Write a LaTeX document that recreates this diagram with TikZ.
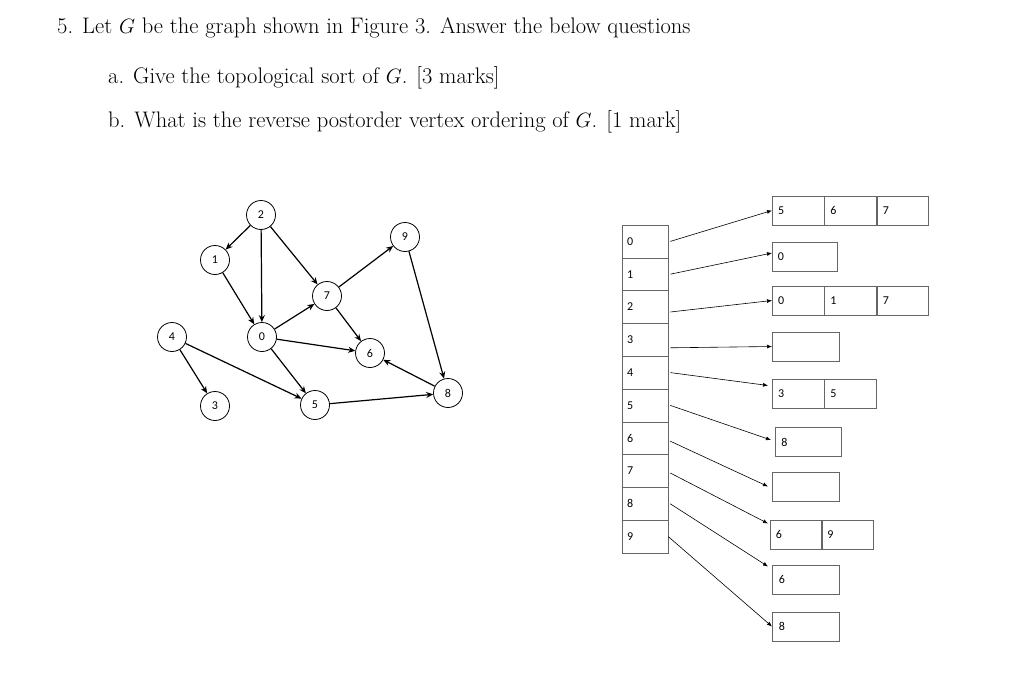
\documentclass[tikz,border=0pt]{standalone}
\usepackage{fontspec}
\usetikzlibrary{arrows.meta}
\newfontfamily\calfont{Carlito}
\begin{document}
\begin{tikzpicture}[x=1pt,y=-1pt,
  vtx/.style={circle,draw,line width=0.8pt,minimum size=29pt,inner sep=0pt,font=\calfont\fontsize{12}{12}\selectfont},
  edge/.style={-{Stealth[length=7pt,width=6pt]},line width=1.2pt},
  arr/.style={draw,gray!80!black,line width=0.6pt,minimum width=46pt,minimum height=32.8pt,inner sep=0pt,font=\calfont\fontsize{12}{12}\selectfont,text=black,text width=36pt,align=left},
  cell/.style={draw,gray!80!black,line width=0.6pt,minimum height=29pt,inner sep=0pt,font=\calfont\fontsize{12}{12}\selectfont,text=black,text depth=0pt},
  ptr/.style={-{Latex[length=5pt,width=4pt]},line width=0.6pt}]
\useasboundingbox (0,0) rectangle (1024,682);
\node[anchor=base west,font=\fontsize{22.5}{27}\selectfont,inner sep=0] (t1) at (57,34) {5. Let $G$ be the graph shown in Figure 3. Answer the below questions};
\node[anchor=base west,font=\fontsize{22.5}{27}\selectfont,inner sep=0] (t2) at (108,84) {a. Give the topological sort of $G$. [3 marks]};
\node[anchor=base west,font=\fontsize{22.5}{27}\selectfont,inner sep=0] (t3) at (108,128) {b. What is the reverse postorder vertex ordering of $G$. [1 mark]};
% graph
\node[vtx] (v2) at (261,215) {2};
\node[vtx] (v1) at (215,260) {1};
\node[vtx] (v7) at (327,296) {7};
\node[vtx] (v9) at (405,237) {9};
\node[vtx] (v4) at (172,337) {4};
\node[vtx] (v0) at (262,337) {0};
\node[vtx] (v6) at (370,353) {6};
\node[vtx] (v3) at (215,406) {3};
\node[vtx] (v5) at (315,405) {5};
\node[vtx] (v8) at (448,393) {8};
\foreach \a/\b in {2/1,2/0,2/7,1/0,0/7,0/6,0/5,7/9,7/6,9/8,8/6,4/3,4/5,5/8}
  \draw[edge] (v\a) -- (v\b);
% array
\foreach \i in {0,...,9}
  \node[arr] (a\i) at (645,{241.4+32.8*\i}) {\i};
% lists
\def\cellw{51.7pt}
\node[cell,minimum width=\cellw,anchor=west,text width=40pt] (l0) at (772,210.5) {5};
\node[cell,minimum width=\cellw,anchor=west,text width=40pt] (l0b) at (l0.east) {6};
\node[cell,minimum width=\cellw,anchor=west,text width=40pt] (l0c) at (l0b.east) {7};
\node[cell,minimum width=65pt,anchor=west,text width=54pt] (l1) at (772,257) {0};
\node[cell,minimum width=\cellw,anchor=west,text width=40pt] (l2) at (772,300.5) {0};
\node[cell,minimum width=\cellw,anchor=west,text width=40pt] (l2b) at (l2.east) {1};
\node[cell,minimum width=\cellw,anchor=west,text width=40pt] (l2c) at (l2b.east) {7};
\node[cell,minimum width=67pt,anchor=west] (l3) at (772,346.5) {};
\node[cell,minimum width=\cellw,anchor=west,text width=40pt] (l4) at (772,393.5) {3};
\node[cell,minimum width=\cellw,anchor=west,text width=40pt] (l4b) at (l4.east) {5};
\node[cell,minimum width=66pt,anchor=west,text width=54pt] (l5) at (775,442) {8};
\node[cell,minimum width=67pt,anchor=west] (l6) at (772,486.5) {};
\node[cell,minimum width=51pt,anchor=west,text width=40pt] (l7) at (770,534.5) {6};
\node[cell,minimum width=51pt,anchor=west,text width=40pt] (l7b) at (l7.east) {9};
\node[cell,minimum width=67pt,anchor=west,text width=54pt] (l8) at (772,579.5) {6};
\node[cell,minimum width=67pt,anchor=west,text width=54pt] (l9) at (772,626.5) {8};
\draw[ptr] ([xshift=2pt]a0.east) -- (l0.west);
\draw[ptr] ([xshift=2pt]a1.east) -- ([yshift=4pt]l1.west);
\draw[ptr] ([xshift=2pt,yshift=-5pt]a2.east) -- (l2.west);
\draw[ptr] ([xshift=2pt,yshift=-8pt]a3.east) -- (l3.west);
\draw[ptr] ([xshift=2pt]a4.east) -- ([xshift=-4pt,yshift=8pt]l4.west);
\draw[ptr] ([xshift=2pt]a5.east) -- ([xshift=-4pt,yshift=2pt]l5.west);
\draw[ptr] ([xshift=2pt,yshift=-3pt]a6.east) -- ([xshift=-4pt]l6.west);
\draw[ptr] ([xshift=2pt,yshift=-2pt]a7.east) -- ([xshift=-2pt,yshift=11pt]l7.west);
\draw[ptr] ([xshift=2pt]a8.east) -- ([xshift=-4pt,yshift=13pt]l8.west);
\draw[ptr] ([xshift=0pt]a9.east) -- (l9.west);
\end{tikzpicture}
\end{document}
